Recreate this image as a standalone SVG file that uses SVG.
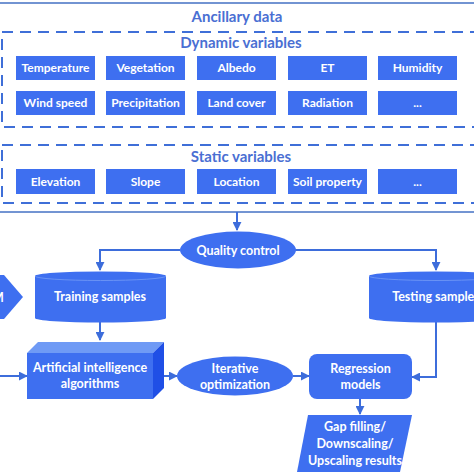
<svg xmlns="http://www.w3.org/2000/svg" width="474" height="474" viewBox="0 0 474 474">
<defs>
<marker id="ah" viewBox="0 0 10 10" refX="9" refY="5" markerWidth="4.5" markerHeight="4.5" orient="auto" markerUnits="strokeWidth">
<path d="M0,0 L10,5 L0,10 z" fill="#3d6ddb"/>
</marker>
<style>
.box{fill:#3e6ff0;}
.t{font-family:Lato,"Open Sans",sans-serif;font-weight:bold;fill:#ffffff;text-anchor:middle;}
.s{font-size:12px;}
.m{font-size:12.5px;}
.h{font-family:Lato,"Open Sans",sans-serif;font-weight:bold;fill:#4a6fd3;text-anchor:middle;font-size:15px;}
.dash{fill:none;stroke:#3f6fd8;stroke-width:2;stroke-dasharray:11,7;}
.ln{fill:none;stroke:#3d6ddb;stroke-width:2;}
</style>
</defs>
<rect width="474" height="474" fill="#ffffff"/>
<g id="ancillary">
<rect x="-2" y="3" width="480" height="209" fill="none" stroke="#4472c4" stroke-width="1.5"/>
<text class="h" x="237" y="22">Ancillary data</text>
</g>
<g id="dynamic">
<rect class="dash" x="2" y="32" width="490" height="95"/>
<text class="h" x="241" y="48">Dynamic variables</text>
</g>
<g id="n-temperature"><rect class="box" x="16" y="56" width="79" height="24"/><text class="t s" x="55.5" y="72">Temperature</text></g>
<g id="n-vegetation"><rect class="box" x="106" y="56" width="79" height="24"/><text class="t s" x="145.5" y="72">Vegetation</text></g>
<g id="n-albedo"><rect class="box" x="197" y="56" width="79" height="24"/><text class="t s" x="236.5" y="72">Albedo</text></g>
<g id="n-et"><rect class="box" x="288" y="56" width="79" height="24"/><text class="t s" x="327.5" y="72">ET</text></g>
<g id="n-humidity"><rect class="box" x="378" y="56" width="79" height="24"/><text class="t s" x="417.5" y="72">Humidity</text></g>
<g id="n-windspeed"><rect class="box" x="16" y="91" width="79" height="24"/><text class="t s" x="55.5" y="107">Wind speed</text></g>
<g id="n-precipitation"><rect class="box" x="106" y="91" width="79" height="24"/><text class="t s" x="145.5" y="107">Precipitation</text></g>
<g id="n-landcover"><rect class="box" x="197" y="91" width="79" height="24"/><text class="t s" x="236.5" y="107">Land cover</text></g>
<g id="n-radiation"><rect class="box" x="288" y="91" width="79" height="24"/><text class="t s" x="327.5" y="107">Radiation</text></g>
<g id="n-dyn-more"><rect class="box" x="378" y="91" width="79" height="24"/><text class="t s" x="417.5" y="107">...</text></g>
<g id="static">
<rect class="dash" x="2" y="145" width="490" height="58"/>
<text class="h" x="241" y="162">Static variables</text>
</g>
<g id="n-elevation"><rect class="box" x="16" y="169" width="79" height="25"/><text class="t s" x="55.5" y="186">Elevation</text></g>
<g id="n-slope"><rect class="box" x="106" y="169" width="79" height="25"/><text class="t s" x="145.5" y="186">Slope</text></g>
<g id="n-location"><rect class="box" x="197" y="169" width="79" height="25"/><text class="t s" x="236.5" y="186">Location</text></g>
<g id="n-soil"><rect class="box" x="288" y="169" width="79" height="25"/><text class="t s" x="327.5" y="186">Soil property</text></g>
<g id="n-sta-more"><rect class="box" x="378" y="169" width="79" height="25"/><text class="t s" x="417.5" y="186">...</text></g>
<g id="connectors">
<path class="ln" d="M237,212 V230" marker-end="url(#ah)"/>
<path class="ln" d="M180,250 H100 V270" marker-end="url(#ah)"/>
<path class="ln" d="M295,250 H436 V270" marker-end="url(#ah)"/>
<path class="ln" d="M100,321 V340" marker-end="url(#ah)"/>
<path class="ln" d="M0,376 H27" marker-end="url(#ah)"/>
<path class="ln" d="M156,376 H177" marker-end="url(#ah)"/>
<path class="ln" d="M293,376 H309" marker-end="url(#ah)"/>
<path class="ln" d="M436,321 V377 H412" marker-end="url(#ah)"/>
<path class="ln" d="M360,399 V414" marker-end="url(#ah)"/>
</g>
<g id="n-quality"><ellipse class="box" cx="238" cy="250" rx="58" ry="18.5"/><text class="t m" x="238" y="255">Quality control</text></g>
<g id="n-m"><path class="box" d="M-20,275 H4 L23,297 L4,319 H-20 z"/><text class="t m" x="-2" y="302">M</text></g>
<g id="n-training">
<path class="box" d="M35,276 A65.5,4.5 0 0 1 166,276 V318 A65.5,4.5 0 0 1 35,318 z"/>
<path d="M35,276 A65.5,4.5 0 0 0 166,276" fill="none" stroke="#6a93f5" stroke-width="1"/>
<text class="t m" x="100" y="301">Training samples</text>
</g>
<g id="n-testing">
<path class="box" d="M369,276 A67,4.5 0 0 1 503,276 V318 A67,4.5 0 0 1 369,318 z"/>
<path d="M369,276 A67,4.5 0 0 0 503,276" fill="none" stroke="#6a93f5" stroke-width="1"/>
<text class="t m" x="436" y="301">Testing samples</text>
</g>
<g id="n-ai">
<path d="M27,353 L38,342 H164 L153,353 z" fill="#6f9af5"/>
<path d="M153,353 L164,342 V388 L153,399 z" fill="#1f4fe6"/>
<rect class="box" x="27" y="353" width="126" height="46"/>
<text class="t m" x="90" y="372">Artificial intelligence</text>
<text class="t m" x="90" y="388">algorithms</text>
</g>
<g id="n-iterative"><ellipse class="box" cx="235" cy="376" rx="58" ry="19.5"/><text class="t m" x="235" y="373">Iterative</text><text class="t m" x="235" y="389">optimization</text></g>
<g id="n-regression"><rect class="box" x="309" y="354" width="103" height="45" rx="8"/><text class="t m" x="360.5" y="373">Regression</text><text class="t m" x="360.5" y="389">models</text></g>
<g id="n-results"><path class="box" d="M308,415 H412 L400,472 H297 z"/><text class="t m" x="355" y="431">Gap filling/</text><text class="t m" x="355" y="448">Downscaling/</text><text class="t m" x="355" y="465">Upscaling results</text></g>
</svg>
